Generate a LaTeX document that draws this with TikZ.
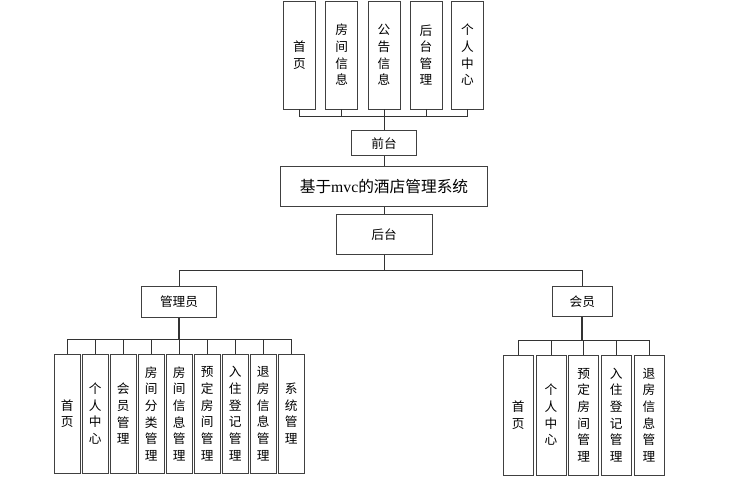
\documentclass[tikz,border=0pt]{standalone}
\usepackage{fontspec}
\setmainfont{Liberation Serif}
\newfontfamily\cjk{Noto Sans CJK SC}
\usepackage{tikz}
\usetikzlibrary{positioning}

\begin{document}
\begin{tikzpicture}[x=0.03cm,y=-0.03cm,
		box/.style={shape=rectangle,draw=black!75,fill=white,line width=0.8pt,inner sep=0pt,
			font=\cjk\fontsize{10.8}{14.2}\selectfont,align=center},
		topbox/.style={box,minimum width=0.96cm,minimum height=3.24cm},
		abox/.style={box,minimum width=0.77cm,minimum height=3.57cm},
		mbox/.style={box,minimum width=0.9cm,minimum height=3.6cm},
		link/.style={draw=black!80,line width=0.7pt}]
		\useasboundingbox (0,0) rectangle (745,480);

		% top row
		\node[topbox] (home)   at (299.5,55) {首\\页};
		\node[topbox] (rooms)  at (341.7,55) {房\\间\\信\\息};
		\node[topbox] (notice) at (384,55)   {公\\告\\信\\息};
		\node[topbox] (admin)  at (426,55)   {后\\台\\管\\理};
		\node[topbox] (mine)   at (467.5,55) {个\\人\\中\\心};

		\node[box,minimum width=1.95cm,minimum height=0.75cm] (front) at (384,143.2) {前台};
		\node[box,minimum width=6.21cm,minimum height=1.2cm,font=\cjk\fontsize{13.4}{15}\selectfont] (sys) at (384,186.7) {基于{\rmfamily mvc}的酒店管理系统};
		\node[box,minimum width=2.88cm,minimum height=1.2cm] (back) at (384,234.2) {后台};

		\node[box,minimum width=2.25cm,minimum height=0.93cm] (mgr) at (179,302) {管理员};
		\node[box,minimum width=1.8cm,minimum height=0.9cm] (mem) at (582.3,301.7) {会员};

		% admin side
		\node[abox] (a1) at (67.2,413.7)  {首\\页};
		\node[abox] (a2) at (95.2,413.7)  {个\\人\\中\\心};
		\node[abox] (a3) at (123.2,413.7) {会\\员\\管\\理};
		\node[abox] (a4) at (151.2,413.7) {房\\间\\分\\类\\管\\理};
		\node[abox] (a5) at (179.2,413.7) {房\\间\\信\\息\\管\\理};
		\node[abox] (a6) at (207.2,413.7) {预\\定\\房\\间\\管\\理};
		\node[abox] (a7) at (235.2,413.7) {入\\住\\登\\记\\管\\理};
		\node[abox] (a8) at (263.2,413.7) {退\\房\\信\\息\\管\\理};
		\node[abox] (a9) at (291.2,413.7) {系\\统\\管\\理};

		% member side
		\node[mbox] (m1) at (518.3,415) {首\\页};
		\node[mbox] (m2) at (551,415)   {个\\人\\中\\心};
		\node[mbox] (m3) at (583.6,415) {预\\定\\房\\间\\管\\理};
		\node[mbox] (m4) at (616.3,415) {入\\住\\登\\记\\管\\理};
		\node[mbox] (m5) at (649,415)   {退\\房\\信\\息\\管\\理};

		\coordinate (tbus) at (384,116);
		\coordinate (bbus) at (384,270);
		\coordinate (abus) at (179,339);
		\coordinate (mbus) at (582.3,340);

		\draw[link] (home.south) |- (tbus);
		\draw[link] (rooms.south) |- (tbus);
		\draw[link] (notice.south) -- (tbus);
		\draw[link] (admin.south) |- (tbus);
		\draw[link] (mine.south) |- (tbus);
		\draw[link] (tbus) -- (front.north);
		\draw[link] (front.south) -- (sys.north);
		\draw[link] (sys.south) -- (back.north);
		\draw[link] (back.south) -- (bbus);
		\draw[link] (bbus) -| (mgr.north);
		\draw[link] (bbus) -| (mem.north);

		\draw[link,line width=1.4pt] (mgr.south) -- (abus);
		\foreach \n in {a1,a2,a3,a4,a5,a6,a7,a8,a9}
			\draw[link] (\n.north) |- (abus);

		\draw[link,line width=1.4pt] (mem.south) -- (mbus);
		\foreach \n in {m1,m2,m3,m4,m5}
			\draw[link] (\n.north) |- (mbus);
	\end{tikzpicture}
\end{document}
